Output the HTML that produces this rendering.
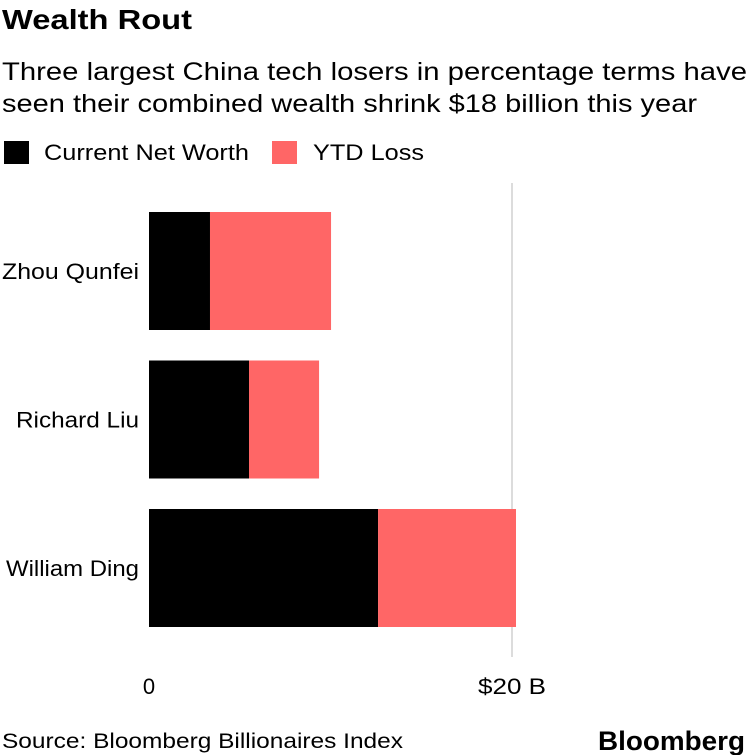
<!DOCTYPE html>
<html><head><meta charset="utf-8"><style>
body{margin:0;background:#fff;font-family:"Liberation Sans",Arial,sans-serif;}
#c{position:relative;width:750px;height:755px;overflow:hidden}
</style></head><body>
<div id="c">
<svg width="750" height="755" xmlns="http://www.w3.org/2000/svg" id="svg">
<text x="2" y="29" font-size="28" font-weight="bold" textLength="190" lengthAdjust="spacingAndGlyphs" fill="#000">Wealth Rout</text>
<text x="2" y="80" font-size="25" textLength="745" lengthAdjust="spacingAndGlyphs" fill="#000">Three largest China tech losers in percentage terms have</text>
<text x="2" y="112" font-size="25" textLength="695" lengthAdjust="spacingAndGlyphs" fill="#000">seen their combined wealth shrink $18 billion this year</text>
<rect x="4" y="141" width="25" height="23" fill="#000"/>
<text x="44" y="160" font-size="22" textLength="205" lengthAdjust="spacingAndGlyphs">Current Net Worth</text>
<rect x="272" y="141" width="25" height="23" fill="#ff6666"/>
<text x="313" y="160" font-size="22" textLength="111" lengthAdjust="spacingAndGlyphs">YTD Loss</text>
<line x1="512" y1="183" x2="512" y2="657" stroke="#dcdcdc" stroke-width="2"/>
<g id="bars"></g>
<text x="2" y="748" font-size="21" textLength="401" lengthAdjust="spacingAndGlyphs">Source: Bloomberg Billionaires Index</text>
<text x="598" y="750" font-size="27" font-weight="bold" textLength="147" lengthAdjust="spacingAndGlyphs">Bloomberg</text>
</svg>
<script>
const categories=["Zhou Qunfei","Richard Liu","William Ding"];
const netWorth=[3.36,5.51,12.62];
const ytdLoss=[6.67,3.86,7.6];
const tickValues=[0,20];
const tickLabels=["0","$20 B"];
const labelWidths=[137,123,133];
const ns="http://www.w3.org/2000/svg";
const x=v=>149+v*(512-149)/20;
const yTop=i=>212+i*148.5;
const bh=118;
const g=document.getElementById('bars');
function mk(t,a){const e=document.createElementNS(ns,t);for(const k in a)e.setAttribute(k,a[k]);return e;}
categories.forEach((c,i)=>{
 const r1=mk('rect',{x:x(0),y:yTop(i),width:x(netWorth[i])-x(0),height:bh,fill:'#000'});
 
 
 g.appendChild(r1);
 const r2=mk('rect',{x:x(netWorth[i]),y:yTop(i),width:x(netWorth[i]+ytdLoss[i])-x(netWorth[i]),height:bh,fill:'#ff6666'});
 
 
 g.appendChild(r2);
 const t=mk('text',{x:139-labelWidths[i],y:yTop(i)+bh/2+8,'font-size':22,textLength:labelWidths[i],lengthAdjust:'spacingAndGlyphs'});
 t.textContent=c;
 
 
 g.appendChild(t);
});
tickValues.forEach((v,i)=>{
 const t=mk('text',{x:x(v),y:694,'font-size':22,'text-anchor':'middle'});
 if(i===1){t.setAttribute('textLength',68);t.setAttribute('lengthAdjust','spacingAndGlyphs');}
 t.textContent=tickLabels[i];
 
 
 g.appendChild(t);
});
</script>
</div>
</body></html>
